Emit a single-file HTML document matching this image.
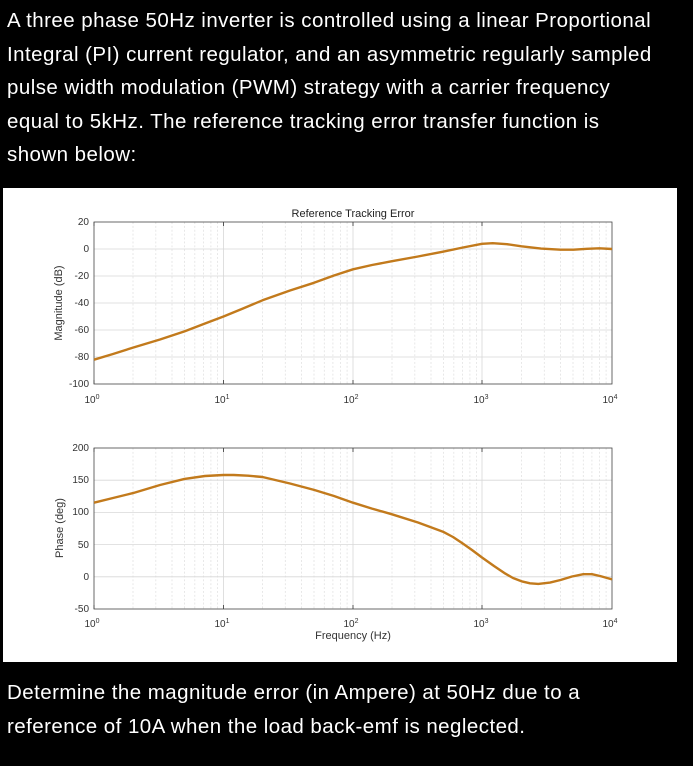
<!DOCTYPE html>
<html><head><style>
body{margin:0;background:#000;width:693px;height:766px;overflow:hidden;position:relative;font-family:"Liberation Sans",sans-serif}
.t{position:absolute;left:7px;color:#fff;font-size:20.5px;letter-spacing:0.45px;line-height:33.5px;white-space:nowrap}
</style></head><body>
<div class="t" style="top:4px">A three phase 50Hz inverter is controlled using a linear Proportional<br>Integral (PI) current regulator, and an asymmetric regularly sampled<br>pulse width modulation (PWM) strategy with a carrier frequency<br>equal to 5kHz. The reference tracking error transfer function is<br>shown below:</div>
<svg style="position:absolute;left:0;top:0" width="693" height="766" font-family="Liberation Sans, sans-serif">
<rect x="3" y="188" width="674" height="474" fill="#fff"/>
<defs>
<path id="minor" d="M133 0v1M155.8 0v1M172 0v1M184.5 0v1M194.8 0v1M203.4 0v1M210.9 0v1M217.6 0v1M262.5 0v1M285.3 0v1M301.5 0v1M314 0v1M324.3 0v1M332.9 0v1M340.4 0v1M347.1 0v1M392 0v1M414.8 0v1M431 0v1M443.5 0v1M453.8 0v1M462.4 0v1M469.9 0v1M476.6 0v1M521.5 0v1M544.3 0v1M560.5 0v1M573 0v1M583.3 0v1M591.9 0v1M599.4 0v1M606.1 0v1"/>
</defs>
<g fill="none" stroke="#e2e2e2" stroke-width="0.8">
<use href="#minor" transform="translate(0,222) scale(1,162)" stroke-dasharray="0.012,0.012" vector-effect="non-scaling-stroke"/>
<use href="#minor" transform="translate(0,448) scale(1,161)" stroke-dasharray="0.012,0.012" vector-effect="non-scaling-stroke"/>
</g>
<g stroke="#d8d8d8" stroke-width="0.8" fill="none">
<path d="M223.5 222V384M353 222V384M482 222V384M223.5 448V609M353 448V609M482 448V609"/>
<path d="M94 249H612M94 276H612M94 303H612M94 330H612M94 357H612"/>
<path d="M94 480.2H612M94 512.4H612M94 544.6H612M94 576.8H612"/>
</g>
<g stroke="#333" stroke-width="0.8">
<path d="M94 222v4M223.5 222v4M353 222v4M482 222v4M94 384v-4M223.5 384v-4M353 384v-4M482 384v-4M94 448v4M223.5 448v4M353 448v4M482 448v4M94 609v-4M223.5 609v-4M353 609v-4M482 609v-4"/>
</g>
<rect x="94" y="222" width="518" height="162" fill="none" stroke="#444" stroke-width="0.8"/>
<rect x="94" y="448" width="518" height="161" fill="none" stroke="#444" stroke-width="0.8"/>
<text x="353" y="217" font-size="11" text-anchor="middle" fill="#222">Reference Tracking Error</text>
<g font-size="10" fill="#333" text-anchor="end">
<text x="89" y="225">20</text><text x="89" y="252">0</text><text x="89" y="279">-20</text><text x="89" y="306">-40</text><text x="89" y="333">-60</text><text x="89" y="360">-80</text><text x="89" y="387">-100</text>
<text x="89" y="451">200</text><text x="89" y="483">150</text><text x="89" y="515">100</text><text x="89" y="548">50</text><text x="89" y="580">0</text><text x="89" y="612">-50</text>
</g>
<g font-size="10" fill="#333" text-anchor="middle">
<text x="92" y="403">10<tspan font-size="7" dy="-4">0</tspan></text><text x="222" y="403">10<tspan font-size="7" dy="-4">1</tspan></text><text x="351" y="403">10<tspan font-size="7" dy="-4">2</tspan></text><text x="481" y="403">10<tspan font-size="7" dy="-4">3</tspan></text><text x="610" y="403">10<tspan font-size="7" dy="-4">4</tspan></text>
<text x="92" y="627">10<tspan font-size="7" dy="-4">0</tspan></text><text x="222" y="627">10<tspan font-size="7" dy="-4">1</tspan></text><text x="351" y="627">10<tspan font-size="7" dy="-4">2</tspan></text><text x="481" y="627">10<tspan font-size="7" dy="-4">3</tspan></text><text x="610" y="627">10<tspan font-size="7" dy="-4">4</tspan></text>
<text x="353" y="639" font-size="11">Frequency (Hz)</text>
<text transform="translate(62,303) rotate(-90)" font-size="11">Magnitude (dB)</text>
<text transform="translate(63,528) rotate(-90)" font-size="11">Phase (deg)</text>
</g>
<polyline fill="none" stroke="#c27a1c" stroke-width="2.4" stroke-linejoin="round" points="94,359.7 113,354 133,347.6 160,339.5 184.5,331.4 205,323.5 223.5,316.5 243,308.5 262.5,300.3 290,290.5 314,282.8 334,275.5 353,269.3 372,265 392,261.2 418,256.5 443,251.7 463,247.5 482,243.8 492.7,243.2 507,244.2 521.5,246.3 541,248.6 560.5,249.7 573.5,249.7 587,248.8 599.4,248.3 612,249"/>
<polyline fill="none" stroke="#c27a1c" stroke-width="2.4" stroke-linejoin="round" points="94,502.7 113,498 133,493.1 160,485 184.5,478.9 205,476 223.5,475 233.8,475 248,475.7 262.5,477 290,483.5 314,489.9 334,496 353,502.7 372,508.6 392,514.3 418,522.5 443,531.7 453,537 462.4,543.3 472,550 482,557.5 494,566 505.3,573.6 513,578 521.5,581.3 530,583.3 538.3,583.9 550,582.6 560.5,580 572,576.5 583.3,574.2 592,574.2 600,576 612,579.4"/>
</svg>
<div class="t" style="top:676px">Determine the magnitude error (in Ampere) at 50Hz due to a<br>reference of 10A when the load back-emf is neglected.</div>
</body></html>
